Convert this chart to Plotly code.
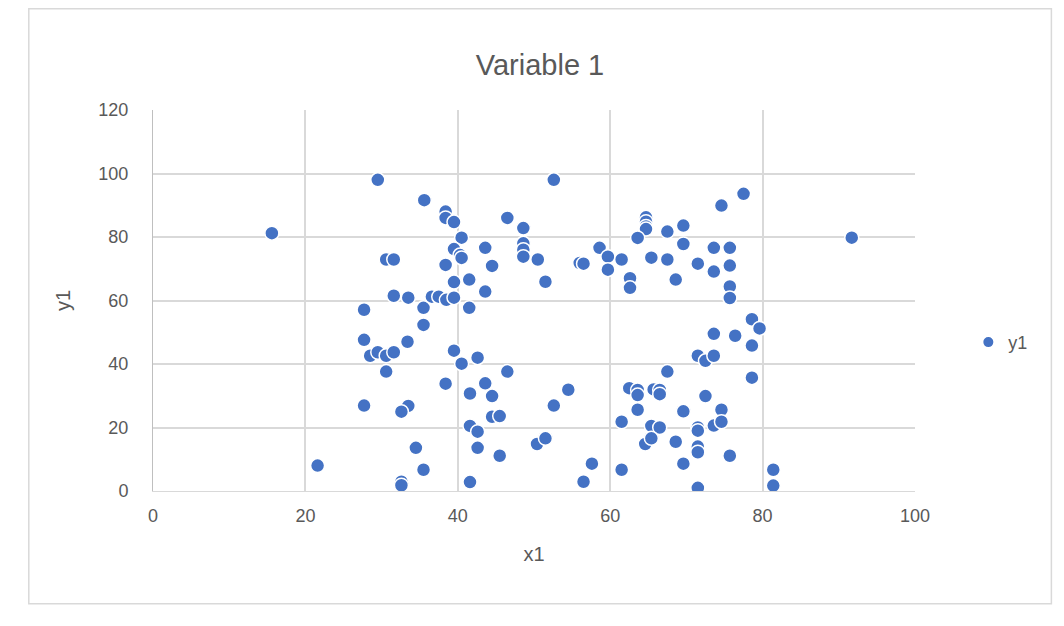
import plotly.graph_objects as go

# x1 / y1 values
x1 = [15.6, 21.6, 29.5, 35.6, 38.4, 38.4, 39.5, 40.5, 46.5, 48.6, 48.6, 48.6, 48.6, 50.5,
      43.6, 39.5, 40.3, 40.5, 38.4, 44.5, 30.6, 31.6, 52.6, 39.5, 41.5, 43.6, 51.5, 31.6,
      33.5, 35.5, 35.5, 27.7, 36.6, 37.5, 38.5, 39.5, 41.5, 56.0,
      27.7, 33.4, 28.5, 29.5, 30.6, 31.6, 30.6, 39.5, 40.5, 42.6, 46.5, 38.4, 43.6, 41.6,
      44.5, 27.7, 33.5, 32.6, 52.6, 54.5, 41.6, 42.6, 44.5, 45.5, 50.4, 51.5, 34.5, 42.6,
      45.5, 35.5, 32.6, 32.6, 41.6,
      77.5, 74.6, 64.7, 64.7, 64.7, 64.7, 63.6, 67.5, 69.6, 69.6, 58.6, 59.7, 56.5, 59.7,
      61.5, 65.4, 67.5, 71.5, 73.6, 75.7, 73.6, 75.7, 68.6, 62.6, 62.6, 75.7, 75.7, 91.7,
      78.6, 79.6, 73.6, 76.4, 78.6, 71.5, 72.5, 73.6, 78.6, 67.5, 62.5, 63.6, 63.6, 65.7,
      66.5, 66.5, 63.6, 61.5, 72.5, 69.6, 74.6, 73.6, 74.6, 71.5, 71.5, 71.5, 71.5, 65.4,
      66.5, 64.6, 65.4, 68.6, 75.7, 69.6, 61.5, 57.6, 56.5, 71.5, 81.4, 81.4]
y1 = [81.2, 8.0, 98.0, 91.6, 88.0, 86.0, 84.7, 79.8, 86.0, 82.8, 78.0, 76.0, 73.8, 72.9,
      76.6, 76.2, 74.3, 73.4, 71.2, 70.9, 72.9, 72.9, 98.0, 65.8, 66.6, 62.8, 65.9, 61.5,
      60.9, 57.7, 52.3, 57.1, 61.2, 61.2, 60.2, 60.9, 57.7, 71.8,
      47.6, 47.0, 42.6, 43.7, 42.6, 43.7, 37.6, 44.2, 40.1, 42.0, 37.6, 33.8, 33.9, 30.7,
      29.9, 26.9, 26.8, 25.0, 26.9, 31.9, 20.5, 18.7, 23.4, 23.6, 14.8, 16.6, 13.6, 13.6,
      11.1, 6.7, 2.9, 1.8, 2.8,
      93.6, 89.9, 86.2, 84.8, 83.3, 82.5, 79.7, 81.7, 83.6, 77.8, 76.6, 73.8, 71.6, 69.7,
      72.9, 73.5, 72.9, 71.6, 76.6, 76.6, 69.1, 71.0, 66.6, 67.0, 64.0, 64.4, 60.8, 79.8,
      54.1, 51.2, 49.5, 48.9, 45.8, 42.6, 41.0, 42.6, 35.7, 37.6, 32.4, 31.8, 30.2, 32.0,
      31.8, 30.5, 25.6, 21.8, 29.9, 25.1, 25.6, 20.6, 21.8, 20.0, 19.0, 14.0, 12.2, 20.5,
      20.0, 14.8, 16.6, 15.5, 11.1, 8.6, 6.7, 8.6, 2.9, 1.0, 6.7, 1.7]

fig = go.Figure(go.Scatter(
    x=x1, y=y1, mode="markers", name="y1",
    marker=dict(color="#4472C4", size=14, line=dict(color="white", width=1.5)),
))

grid = "#d9d9d9"
fig.update_layout(
    width=1064, height=626,
    margin=dict(l=145, r=157, t=102, b=143),
    paper_bgcolor="white", plot_bgcolor="white",
    font=dict(family="Liberation Sans, Arial", color="#595959", size=18),
    title=dict(text="Variable 1", x=0.5, xanchor="center", y=0.925,
               font=dict(size=29, color="#595959")),
    showlegend=True,
    legend=dict(x=1.07, y=0.39, xanchor="left", yanchor="middle",
                font=dict(size=18, color="#595959"), itemsizing="constant"),
)
fig.update_xaxes(range=[0, 100], dtick=20, showgrid=True, gridcolor=grid, gridwidth=1.5,
                 zeroline=False, showline=True, linecolor=grid,
                 title=dict(text="x1", font=dict(size=20), standoff=22),
                 ticks="outside", ticklen=8, tickcolor="rgba(0,0,0,0)",
                 tickfont=dict(size=18))
fig.update_yaxes(range=[0, 120], dtick=20, showgrid=True, gridcolor=grid, gridwidth=1.5,
                 zeroline=False, showline=True, linecolor="#bfbfbf",
                 title=dict(text="y1", font=dict(size=20), standoff=22),
                 ticks="outside", ticklen=20, tickcolor="rgba(0,0,0,0)",
                 tickfont=dict(size=18))
fig.add_shape(type="rect", xref="paper", yref="paper", x0=-0.163, x1=1.179, y0=-0.296, y1=1.266,
              line=dict(color="#d9d9d9", width=1.5))

fig.write_html("out.html")
